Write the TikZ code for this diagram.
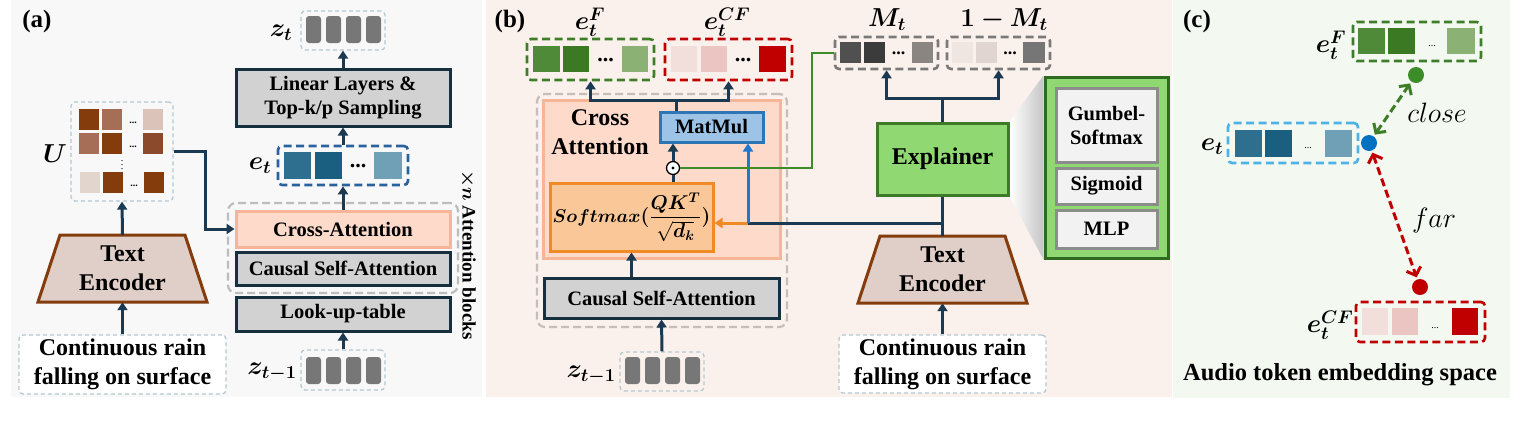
\RequirePackage{fix-cm}
\documentclass[tikz,border=0pt]{standalone}
\usepackage{amsmath}
\usepackage{bm}
\usepackage{fontspec}
\setmainfont{Liberation Serif}
\usetikzlibrary{arrows.meta,shapes.geometric,calc}
\pgfdeclarelayer{bglayer}
\pgfsetlayers{bglayer,main}
\definecolor{navy}{HTML}{1B3A52}
\definecolor{boxline}{HTML}{16303F}
\definecolor{greyfill}{HTML}{D2D2D2}
\definecolor{lightdash}{HTML}{B4C8D2}
\definecolor{bgA}{HTML}{F8F8F8}
\definecolor{bgB}{HTML}{FBF1EC}
\definecolor{bgC}{HTML}{F3F8F1}
\definecolor{crossfill}{HTML}{FDDACA}
\definecolor{crossline}{HTML}{F7B598}
\definecolor{blockdash}{HTML}{BDBDBD}
\definecolor{blockdashB}{HTML}{C8BDB9}
\definecolor{softfill}{HTML}{FAC898}
\definecolor{softline}{HTML}{F08A24}
\definecolor{mmfill}{HTML}{9DC3E6}
\definecolor{mmline}{HTML}{2E75B6}
\definecolor{bline}{HTML}{1F78CF}
\definecolor{gline}{HTML}{3C8C28}
\definecolor{gdash}{HTML}{3E7E28}
\definecolor{rdash}{HTML}{C00000}
\definecolor{explfill}{HTML}{8FD872}
\definecolor{explline}{HTML}{3F7A28}
\definecolor{detline}{HTML}{2E6B1F}
\definecolor{innerfill}{HTML}{F2F2F2}
\definecolor{innerline}{HTML}{8C8C8C}
\definecolor{encfill}{HTML}{DFCFC8}
\definecolor{encline}{HTML}{843C0C}
\definecolor{uD}{HTML}{843C0C}
\definecolor{uM}{HTML}{A66D57}
\definecolor{uL}{HTML}{DBC3B9}
\definecolor{uL2}{HTML}{E2D5CE}
\definecolor{uD2}{HTML}{8C4A2C}
\definecolor{zc}{HTML}{777777}
\definecolor{eA}{HTML}{2E6E8E}
\definecolor{eB}{HTML}{1A5E80}
\definecolor{eC}{HTML}{70A0B5}
\definecolor{fA}{HTML}{4E8A37}
\definecolor{fB}{HTML}{3B7A23}
\definecolor{fC}{HTML}{8BB274}
\definecolor{cA}{HTML}{F2DFDC}
\definecolor{cB}{HTML}{EBC5C2}
\definecolor{cC}{HTML}{C00000}
\definecolor{mA}{HTML}{505050}
\definecolor{mB}{HTML}{3B3B3B}
\definecolor{mC}{HTML}{8A8581}
\definecolor{nA}{HTML}{EFE6E2}
\definecolor{nB}{HTML}{E0D5D1}
\definecolor{nC}{HTML}{767676}
\definecolor{etdash}{HTML}{2A62A0}
\definecolor{etdashC}{HTML}{4DB3E6}
\definecolor{mdash}{HTML}{7A7A7A}
\definecolor{dotB}{HTML}{0070C0}
\tikzset{
 f20/.style={font=\fontsize{20.5}{24}\selectfont\bfseries},
 f24/.style={font=\fontsize{24}{29}\selectfont\bfseries},
 panellab/.style={font=\fontsize{25}{30}\selectfont\bfseries},
 mlab/.style={font=\fontsize{26}{30}\selectfont},
 bigdots/.style={font=\fontsize{22}{22}\selectfont\bfseries, inner sep=0pt},
 smalldots/.style={font=\fontsize{10}{10}\selectfont\bfseries, inner sep=0pt},
 darkbox/.style={draw=boxline, line width=3pt, fill=greyfill, inner sep=0pt, f20},
 lightbox/.style={draw=lightdash, line width=1.3pt, dash pattern=on 4pt off 3pt, rounded corners=4pt, inner sep=0pt},
 colbox/.style={line width=2.6pt, dash pattern=on 8pt off 4.5pt, rounded corners=4pt, inner sep=0pt},
 arr/.style={draw=navy, line width=3pt, -{Triangle[width=10pt,length=8pt]}},
 wire/.style={draw=navy, line width=3pt},
 enctext/.style={inner sep=0pt, align=center, f24},
 encshape/.style={draw=encline, fill=encfill, line width=3pt, line join=miter},
 bigdot/.style={circle, inner sep=0pt, minimum size=16pt},
 innerbox/.style={draw=innerline, fill=innerfill, line width=3pt, minimum width=101, inner sep=0pt, f20, align=center},
 barbs/.style={line width=3pt, dash pattern=on 8pt off 4pt, {Straight Barb[length=7pt,width=15pt]}-{Straight Barb[length=7pt,width=15pt]}, shorten >=2pt, shorten <=2pt},
}
\begin{document}
\begin{tikzpicture}[x=1pt,y=-1pt]
\useasboundingbox (0,0) rectangle (1515,437);
\begin{pgfonlayer}{bglayer}
\fill[bgA] (11,0) rectangle (482,397);
\fill[bgB] (486,0) rectangle (1172,397);
\fill[bgC] (1173,0) rectangle (1510,398);
\end{pgfonlayer}

% ---------------- panel (a) ----------------
\node[panellab] (la) at (37,21) {(a)};
\node[lightbox, minimum width=102, minimum height=99] (U) at (122,151.5) {};
\foreach \xa/\ya/\c in {79/109/uD, 102/109/uM, 143/109/uL, 79/133/uM, 102/133/uD, 143/133/uD2, 80/172/uL2, 103/172/uD, 144/172/uD}
  \fill[\c] (\xa,\ya) rectangle ++(20,21);
\node[smalldots] at (133,123) {...};
\node[smalldots] at (133,147) {...};
\node[smalldots] at (134,186) {...};
\node[font=\fontsize{10}{10}\selectfont] at (122,162) {$\vdots$};
\node[mlab] (Ul) at (55,154) {$\bm{U}$};
\draw[encshape] (38,302) -- (207,302) -- (185,235) -- (60,235) -- cycle;
\node[enctext, minimum width=169, minimum height=67] (enc1) at (122.5,268.5) {Text\\Encoder};
\node[lightbox, fill=white, minimum width=207, minimum height=59, align=center, f24] (rain1) at (122.5,364.5) {Continuous rain\\falling on surface};

\node[draw=blockdash, line width=2.2pt, dash pattern=on 8pt off 4pt, rounded corners=8pt, minimum width=230, minimum height=90] (blk) at (343,248) {};
\node[draw=crossline, fill=crossfill, line width=3pt, minimum width=214, minimum height=36, inner sep=0pt, f20] (crossA) at (343,229) {Cross-Attention};
\node[darkbox, minimum width=214, minimum height=33] (causal1) at (343,268.5) {Causal Self-Attention};
\node[darkbox, minimum width=214, minimum height=34] (lut) at (343,314) {Look-up-table};
\node[darkbox, minimum width=214, minimum height=57, align=center] (linear) at (343,97.5) {Linear Layers \&\\Top-k/p Sampling};

\node[lightbox, minimum width=84, minimum height=39] (zt) at (343,30.5) {};
\foreach \x in {306,326,346,366} \fill[zc, rounded corners=3pt] (\x,16) rectangle ++(15,27);
\node[mlab] (ztl) at (281,33) {$\bm{z_t}$};

\node[colbox, draw=etdash, minimum width=130, minimum height=39] (et) at (343,165.5) {};
\foreach \xa/\xb/\c in {284/311/eA, 315/342/eB, 374/402/eC} \fill[\c] (\xa,152) rectangle (\xb,179);
\node[bigdots] at (358,166) {...};
\node[mlab] (etl) at (260,166) {$\bm{e_t}$};

\node[lightbox, minimum width=84, minimum height=40] (zt1) at (343,370) {};
\foreach \x in {306,326,346,366} \fill[zc, rounded corners=3pt] (\x,357) rectangle ++(15,27);
\node[mlab] (zt1l) at (272,372) {$\bm{z_{t-1}}$};

\node[rotate=-90, font=\fontsize{19}{22}\selectfont\bfseries] (nlab) at (468,255) {$\bm{\times n}$ Attention blocks};

\draw[arr] (rain1.north) -- (enc1.south);
\draw[arr] (enc1.north) -- (U.south);
\coordinate (ua) at (205,150);
\draw[arr] (U.east) -- (U.east -| ua) |- (crossA.west);
\draw[arr] (zt1.north) -- (lut.south);
\draw[arr] (crossA.north) -- (et.south);
\draw[arr] (et.north) -- (linear.south);
\draw[arr] (linear.north) -- (zt.south);

% ---------------- panel (b) ----------------
\node[panellab] (lb) at (510,21) {(b)};
\node[draw=blockdashB, line width=2.2pt, dash pattern=on 8pt off 4pt, rounded corners=8pt, minimum width=250, minimum height=233] (blkB) at (662,210.5) {};
\node[draw=crossline, fill=crossfill, line width=3pt, minimum width=237, minimum height=158] (crossB) at (661.5,179) {};
\node[f24, align=center, inner sep=0pt] (catext) at (600,132) {Cross\\Attention};
\node[draw=mmline, fill=mmfill, line width=3pt, minimum width=103, minimum height=30, inner sep=0pt, f20] (matmul) at (711.5,127) {MatMul};
\node[circle, draw=black, fill=white, line width=1.3pt, minimum size=13, inner sep=0pt] (odot) at (673,168) {};
\fill[black] (odot.center) circle (1.6);
\node[draw=softline, fill=softfill, line width=3pt, minimum width=163, minimum height=68, inner sep=0pt, font=\fontsize{18.5}{22}\selectfont] (soft) at (631.5,217) {$\bm{Softmax}\mbox{\fontsize{20}{24}\selectfont$\bm{(}\dfrac{\bm{QK^T}}{\sqrt{\bm{d_k}}}\bm{)}$}$};
\node[darkbox, minimum width=235, minimum height=40] (causal2) at (661.5,298) {Causal Self-Attention};
\node[lightbox, minimum width=84, minimum height=39] (zt1b) at (662,371.5) {};
\foreach \x in {625,645,665,685} \fill[zc, rounded corners=3pt] (\x,357) rectangle ++(15,27);
\node[mlab] (zt1bl) at (591,375) {$\bm{z_{t-1}}$};

\node[colbox, draw=gdash, minimum width=127, minimum height=41] (eF) at (590.5,59.5) {};
\foreach \xa/\xb/\c in {533/560/fA, 563/589/fB, 622/648/fC} \fill[\c] (\xa,46) rectangle (\xb,72);
\node[bigdots] at (605.5,60) {...};
\node[mlab] (eFl) at (590,22) {$\bm{e_t^F}$};
\node[colbox, draw=rdash, minimum width=127, minimum height=41] (eCF) at (728.5,59.5) {};
\foreach \xa/\xb/\c in {671/697/cA, 701/727/cB, 759/786/cC} \fill[\c] (\xa,46) rectangle (\xb,72);
\node[bigdots] at (743,60) {...};
\node[mlab] (eCFl) at (727,22) {$\bm{e_t^{CF}}$};

\node[colbox, draw=mdash, minimum width=103, minimum height=32] (M) at (886.5,53) {};
\foreach \xa/\xb/\c in {840/861/mA, 864/885/mB, 912/933/mC} \fill[\c] (\xa,42) rectangle (\xb,63);
\node[bigdots, font=\fontsize{18}{18}\selectfont\bfseries] at (898.5,53) {...};
\node[mlab] (Ml) at (887,20) {$\bm{M_t}$};
\node[colbox, draw=mdash, minimum width=103, minimum height=32] (Mc) at (998.5,53) {};
\foreach \xa/\xb/\c in {952/973/nA, 976/997/nB, 1023/1045/nC} \fill[\c] (\xa,42) rectangle (\xb,63);
\node[bigdots, font=\fontsize{18}{18}\selectfont\bfseries] at (1010,53) {...};
\node[mlab] (Mcl) at (1004,20) {$\bm{1-M_t}$};

\node[draw=explline, fill=explfill, line width=3pt, minimum width=131, minimum height=72, inner sep=0pt, f24] (expl) at (942.5,159) {Explainer};
\draw[encshape] (858,303) -- (1027,303) -- (1005,236) -- (880,236) -- cycle;
\node[enctext, minimum width=169, minimum height=67] (enc2) at (942.5,269.5) {Text\\Encoder};
\node[lightbox, fill=white, minimum width=207, minimum height=58, align=center, f24] (rain2) at (942.5,364) {Continuous rain\\falling on surface};

\node[draw=detline, fill=explfill, line width=3pt, minimum width=123, minimum height=181] (det) at (1106.5,167.5) {};
\node[innerbox, minimum height=74] (gum) at (1106.5,125) {Gumbel-\\Softmax};
\node[innerbox, minimum height=36] (sig) at (1106.5,186) {Sigmoid};
\node[innerbox, minimum height=38] (mlp) at (1106.5,229) {MLP};
\begin{pgfonlayer}{bglayer}
\shade[left color=white, right color=gray!45] (expl.north east) -- (det.north west) -- (det.south west) -- (expl.south east) -- cycle;
\end{pgfonlayer}

\coordinate (mj) at (676,100);
\draw[wire] (mj |- matmul.north) -- (mj);
\draw[arr] (mj) -| (eF.south);
\draw[arr] (mj) -| (eCF.south);
\draw[arr] (odot.north) -- (odot.north |- matmul.south);
\draw[wire] (odot.south |- soft.north) -- (odot.south);
\draw[arr] (causal2.north -| soft.south) -- (soft.south);
\draw[arr] (zt1b.north) -- (causal2.south);

\coordinate (ej) at (942.5,98);
\draw[wire] (expl.north) -- (ej);
\draw[arr] (ej) -| (M.south);
\draw[arr] (ej) -| (Mc.south);
\draw[wire] (enc2.north) -- (expl.south);
\coordinate (kj) at (942.5,223);
\coordinate (bj) at (748,223);
\draw[wire] (kj) -- (bj);
\draw[draw=softline, line width=3pt, -{Triangle[width=10pt,length=8pt]}] (bj) -- (bj -| soft.east);
\draw[draw=bline, line width=3pt, -{Triangle[width=10pt,length=8pt]}] (bj) -- (bj |- matmul.south);
\coordinate (gx) at (812,100);
\draw[draw=gline, line width=2.4pt] (odot.east) -- (odot.east -| gx) |- (M.west);
\draw[arr] (rain2.north) -- (enc2.south);

% ---------------- panel (c) ----------------
\node[panellab] (lc) at (1197,21) {(c)};
\node[colbox, draw=gdash, minimum width=128, minimum height=39] (eF2) at (1417,41.5) {};
\foreach \xa/\xb/\c in {1358/1385/fA, 1388/1415/fB, 1447/1475/fC} \fill[\c] (\xa,28) rectangle (\xb,54);
\node[smalldots, font=\fontsize{10}{10}\selectfont] at (1432,46) {...};
\node[mlab] (eF2l) at (1331,45) {$\bm{e_t^F}$};
\node[bigdot, fill=gline] (gd) at (1416,75) {};

\node[colbox, draw=etdashC, minimum width=130, minimum height=40] (etc) at (1293,143) {};
\foreach \xa/\xb/\c in {1235/1262/eA, 1265/1292/eB, 1325/1352/eC} \fill[\c] (\xa,130) rectangle (\xb,157);
\node[smalldots, font=\fontsize{10}{10}\selectfont] at (1308,148) {...};
\node[mlab] (etcl) at (1212,147) {$\bm{e_t}$};
\node[bigdot, fill=dotB] (bd) at (1369,143) {};

\node[bigdot, fill=rdash] (rd) at (1420,287) {};
\node[colbox, draw=rdash, minimum width=129, minimum height=40] (eCF2) at (1420.5,322) {};
\foreach \xa/\xb/\c in {1362/1388/cA, 1392/1418/cB, 1452/1478/cC} \fill[\c] (\xa,308) rectangle (\xb,335);
\node[smalldots, font=\fontsize{10}{10}\selectfont] at (1435,328) {...};
\node[mlab] (eCF2l) at (1330,325) {$\bm{e_t^{CF}}$};

\draw[gdash, barbs] (bd) -- (gd);
\draw[rdash, barbs] (bd) -- (rd);
\node[font=\fontsize{28}{30}\selectfont] (closel) at (1437,113) {$close$};
\node[font=\fontsize{28}{30}\selectfont] (farl) at (1434,220) {$far$};
\node[font=\fontsize{24.5}{29}\selectfont\bfseries] (spacel) at (1340,375) {Audio token embedding space};
\end{tikzpicture}
\end{document}
